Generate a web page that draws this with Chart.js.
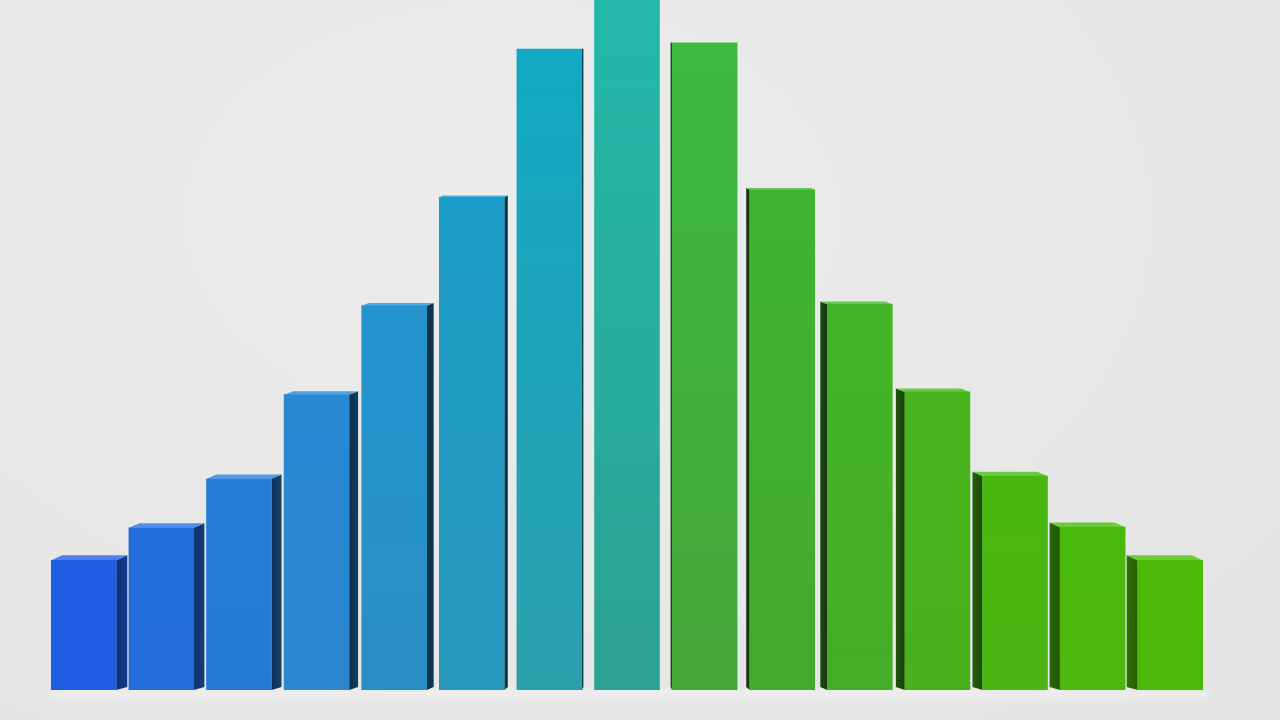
<!DOCTYPE html>
<html>
<head>
<meta charset="utf-8">
<script src="https://cdn.jsdelivr.net/npm/chart.js@4.4.1/dist/chart.umd.min.js"></script>
<style>
  html, body { margin: 0; padding: 0; }
  body {
    width: 1280px; height: 720px; overflow: hidden;
    background: radial-gradient(ellipse at 40% 30%, #ececec 0%, #e7e7e7 60%, #e3e3e3 100%);
  }
  #wrap { position: relative; width: 1280px; height: 720px; }
  #floor {
    position: absolute; left: 50px; right: 70px; top: 690px; height: 12px;
    background: linear-gradient(rgba(244, 244, 244, 0.9), rgba(236, 236, 236, 0));
    filter: blur(3px);
  }
  canvas { position: absolute; left: 0; top: 0; }
</style>
</head>
<body>
<div id="wrap"><div id="floor"></div><canvas id="chart" width="1280" height="720"></canvas></div>
<script>
// 15 columns, symmetric bell shape (no labels in the picture)
const labels = ['1', '2', '3', '4', '5', '6', '7', '8', '9', '10', '11', '12', '13', '14', '15'];
const values = [18.8, 23.5, 30.6, 42.8, 55.7, 71.4, 92.9, 104, 93.8, 72.5, 55.9, 43.2, 31.0, 23.6, 18.8];

// colours (top / bottom of the front face)
const topColors = ['#2160ea', '#2472e3', '#2980df', '#268bd8', '#1e96d2', '#17a0cc', '#10aac6', '#22b8a8',
                   '#3dba42', '#3db735', '#41b92a', '#45bb1c', '#48bd11', '#49be0a', '#4abf06'];
const bottomColors = ['#1f5de2', '#226ddb', '#2779d6', '#2a86cf', '#2990c6', '#2a98bd', '#2b9fac', '#2da293',
                      '#44a738', '#43a92f', '#45ad27', '#48b11b', '#4ab512', '#4ab80c', '#4bba08'];
// width of the visible side face, by distance from the middle column
const sideWidth = [0, 1.5, 3.5, 7, 9, 10, 10.5, 11];

const hexToRgb = (h) => [1, 3, 5].map(i => parseInt(h.substr(i, 2), 16));
const shade = (h, f) => {
    const c = hexToRgb(h).map(v => Math.round(v * f));
    return `rgb(${c[0]}, ${c[1]}, ${c[2]})`;
};
const tint = (h, f) => {
    const c = hexToRgb(h).map(v => Math.round(v + (255 - v) * f));
    return `rgb(${c[0]}, ${c[1]}, ${c[2]})`;
};

const mid = Math.floor(values.length / 2);

const faces3d = {
    id: 'faces3d',
    beforeDatasetsDraw(chart) {
        const ctx = chart.ctx;
        const meta = chart.getDatasetMeta(0);
        const area = chart.chartArea;
        ctx.save();
        ctx.beginPath();
        ctx.rect(area.left - 20, area.top, area.right - area.left + 40, area.bottom - area.top + 5);
        ctx.clip();
        meta.data.forEach((bar, i) => {
            const d = i - mid;
            if (d === 0) return;
            const { x, y, base, width } = bar.getProps(['x', 'y', 'base', 'width'], true);
            const xl = x - width / 2, xr = x + width / 2;
            const sw = sideWidth[Math.abs(d)];
            const top = Math.max(y, area.top);
            const tt = Math.max(0, top / 112);
            const dir = d < 0 ? 1 : -1;
            const edge = d < 0 ? xr : xl;
            const far = Math.abs(d) / mid;

            // side face
            const g = ctx.createLinearGradient(edge, 0, edge + dir * sw, 0);
            g.addColorStop(0, shade(bottomColors[i], 0.16 + 0.34 * far));
            g.addColorStop(1, shade(topColors[i], 0.26 + 0.34 * far));
            ctx.fillStyle = g;
            ctx.beginPath();
            ctx.moveTo(edge, top);
            ctx.lineTo(edge + dir * sw, top - tt);
            ctx.lineTo(edge + dir * sw, base - 3);
            ctx.lineTo(edge, base);
            ctx.closePath();
            ctx.fill();

            // top face
            if (tt > 0.6) {
                ctx.fillStyle = tint(topColors[i], 0.2);
                ctx.beginPath();
                ctx.moveTo(xl, top);
                ctx.lineTo(xr, top);
                ctx.lineTo(xr + dir * sw, top - tt);
                ctx.lineTo(xl + dir * sw, top - tt);
                ctx.closePath();
                ctx.fill();
            }
        });
        ctx.restore();
    }
};

const ctx = document.getElementById('chart');

const data = {
    labels: labels,
    datasets: [
        {
            data: values,
            barThickness: 65,
            borderWidth: 0,
            backgroundColor: (c) => {
                const area = c.chart.chartArea;
                if (!area) return topColors[c.dataIndex];
                const el = c.element;
                const yTop = el && isFinite(el.y) ? Math.max(el.y, area.top) : area.top;
                const g = c.chart.ctx.createLinearGradient(0, yTop, 0, area.bottom);
                g.addColorStop(0, topColors[c.dataIndex]);
                g.addColorStop(1, bottomColors[c.dataIndex]);
                return g;
            },
        }
    ]
};

const config = {
    type: 'bar',
    data: data,
    options: {
        responsive: false,
        animation: false,
        devicePixelRatio: 1,
        layout: {
            padding: { left: 45, right: 71, top: 0, bottom: 30 }
        },
        scales: {
            x: { display: false, categoryPercentage: 1, barPercentage: 1 },
            y: { display: false, min: 0, max: 100 }
        },
        plugins: {
            legend: { display: false },
            tooltip: { enabled: false },
        },
    },
    plugins: [faces3d],
};

const barChart = new Chart(ctx, config);
</script>
</body>
</html>
